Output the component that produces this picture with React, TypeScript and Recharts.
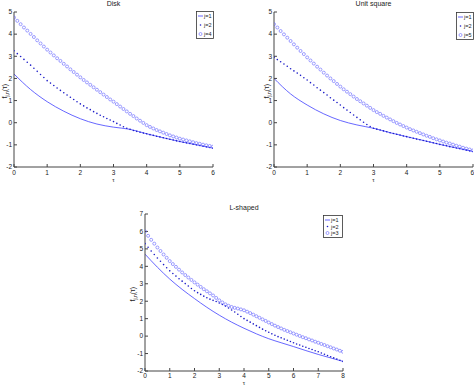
import React from 'react';
import { LineChart, Line, XAxis, YAxis } from 'recharts';

// tau samples
const tauFine6 = [
  0, 0.1, 0.2, 0.3, 0.4, 0.5, 0.6, 0.7, 0.8, 0.9, 1, 1.1, 1.2, 1.3, 1.4, 1.5, 1.6, 1.7, 1.8, 1.9, 2,
  2.1, 2.2, 2.3, 2.4, 2.5, 2.6, 2.7, 2.8, 2.9, 3, 3.1, 3.2, 3.3, 3.4, 3.5, 3.6, 3.7, 3.8, 3.9, 4,
  4.1, 4.2, 4.3, 4.4, 4.5, 4.6, 4.7, 4.8, 4.9, 5, 5.1, 5.2, 5.3, 5.4, 5.5, 5.6, 5.7, 5.8, 5.9, 6,
];
const tauHalf6 = [0, 0.5, 1, 1.5, 2, 2.5, 3, 3.5, 4, 4.5, 5, 5.5, 6];
const tauFine8 = [
  0, 0.125, 0.25, 0.375, 0.5, 0.625, 0.75, 0.875, 1, 1.125, 1.25, 1.375, 1.5, 1.625, 1.75, 1.875,
  2, 2.125, 2.25, 2.375, 2.5, 2.625, 2.75, 2.875, 3, 3.125, 3.25, 3.375, 3.5, 3.625, 3.75, 3.875,
  4, 4.125, 4.25, 4.375, 4.5, 4.625, 4.75, 4.875, 5, 5.125, 5.25, 5.375, 5.5, 5.625, 5.75, 5.875,
  6, 6.125, 6.25, 6.375, 6.5, 6.625, 6.75, 6.875, 7, 7.125, 7.25, 7.375, 7.5, 7.625, 7.75, 7.875, 8,
];
const tauHalf8 = [0, 0.5, 1, 1.5, 2, 2.5, 3, 3.5, 4, 4.5, 5, 5.5, 6, 6.5, 7, 7.5, 8];

// Disk
const diskJ1 = [2.2, 1.5, 0.95, 0.52, 0.18, -0.06, -0.2, -0.3, -0.5, -0.68, -0.85, -1.0, -1.15];
const diskJ2 = [
  3.25, 3.12, 2.99, 2.86, 2.73, 2.6, 2.46, 2.32, 2.18, 2.04, 1.9, 1.79, 1.68, 1.57, 1.46, 1.35,
  1.25, 1.15, 1.05, 0.95, 0.85, 0.76, 0.67, 0.59, 0.5, 0.42, 0.34, 0.27, 0.19, 0.12, 0.05, -0.03,
  -0.1, -0.18, -0.25, -0.3, -0.35, -0.39, -0.43, -0.47, -0.5, -0.54, -0.57, -0.61, -0.64, -0.68,
  -0.71, -0.75, -0.78, -0.82, -0.85, -0.88, -0.91, -0.94, -0.97, -1.0, -1.03, -1.06, -1.09, -1.12, -1.15,
];
const diskJ4 = [
  4.75, 4.6, 4.45, 4.3, 4.16, 4.01, 3.87, 3.72, 3.58, 3.44, 3.3, 3.17, 3.04, 2.91, 2.79, 2.66,
  2.54, 2.41, 2.29, 2.17, 2.05, 1.93, 1.82, 1.71, 1.6, 1.49, 1.38, 1.27, 1.16, 1.05, 0.95, 0.84,
  0.73, 0.62, 0.51, 0.4, 0.3, 0.19, 0.09, -0.01, -0.11, -0.19, -0.26, -0.33, -0.39, -0.45, -0.51,
  -0.57, -0.62, -0.67, -0.72, -0.76, -0.8, -0.84, -0.88, -0.92, -0.95, -0.99, -1.02, -1.05, -1.08,
];

// Unit square
const squareJ1 = [2.0, 1.3, 0.8, 0.4, 0.1, -0.1, -0.25, -0.45, -0.63, -0.8, -0.98, -1.14, -1.3];
const squareJ2 = [
  2.95, 2.85, 2.75, 2.65, 2.55, 2.44, 2.34, 2.24, 2.14, 2.03, 1.93, 1.81, 1.7, 1.58, 1.47, 1.36,
  1.25, 1.13, 1.02, 0.91, 0.8, 0.68, 0.57, 0.46, 0.35, 0.24, 0.13, 0.02, -0.08, -0.17, -0.25, -0.29,
  -0.33, -0.37, -0.41, -0.45, -0.49, -0.52, -0.56, -0.6, -0.63, -0.67, -0.7, -0.74, -0.77, -0.8,
  -0.84, -0.87, -0.91, -0.94, -0.98, -1.01, -1.04, -1.08, -1.11, -1.14, -1.17, -1.21, -1.24, -1.27, -1.3,
];
const squareJ5 = [
  4.45, 4.3, 4.14, 3.99, 3.84, 3.69, 3.54, 3.39, 3.24, 3.1, 2.95, 2.81, 2.67, 2.53, 2.4, 2.26,
  2.13, 2.0, 1.88, 1.75, 1.63, 1.51, 1.4, 1.29, 1.18, 1.07, 0.97, 0.87, 0.77, 0.67, 0.57, 0.48,
  0.4, 0.31, 0.23, 0.15, 0.07, -0.01, -0.08, -0.15, -0.22, -0.29, -0.35, -0.41, -0.47, -0.53,
  -0.59, -0.64, -0.7, -0.75, -0.8, -0.85, -0.9, -0.94, -0.99, -1.04, -1.08, -1.13, -1.17, -1.21, -1.25,
];

// L-shaped
const lshapeJ1 = [4.7, 3.95, 3.27, 2.68, 2.15, 1.65, 1.2, 0.8, 0.45, 0.13, -0.15, -0.38, -0.6, -0.83, -1.05, -1.25, -1.45];
const lshapeJ2 = [
  5.3, 5.09, 4.88, 4.68, 4.48, 4.29, 4.1, 3.92, 3.74, 3.59, 3.44, 3.29, 3.15, 3.01, 2.87, 2.73,
  2.6, 2.49, 2.39, 2.29, 2.2, 2.12, 2.05, 1.98, 1.9, 1.81, 1.72, 1.61, 1.5, 1.38, 1.25, 1.12,
  1.0, 0.9, 0.8, 0.7, 0.6, 0.5, 0.4, 0.31, 0.22, 0.13, 0.05, -0.03, -0.1, -0.17, -0.24, -0.31,
  -0.38, -0.45, -0.51, -0.58, -0.64, -0.71, -0.77, -0.84, -0.9, -0.97, -1.04, -1.11, -1.18, -1.25, -1.31, -1.38, -1.45,
];
const lshapeJ3 = [
  6.0, 5.75, 5.52, 5.3, 5.08, 4.88, 4.68, 4.49, 4.3, 4.13, 3.97, 3.81, 3.65, 3.5, 3.36, 3.22,
  3.08, 2.95, 2.82, 2.69, 2.57, 2.45, 2.33, 2.19, 2.05, 1.93, 1.82, 1.74, 1.67, 1.62, 1.58, 1.53,
  1.48, 1.4, 1.32, 1.23, 1.14, 1.05, 0.96, 0.87, 0.78, 0.69, 0.6, 0.52, 0.44, 0.36, 0.29, 0.22,
  0.15, 0.08, 0.01, -0.06, -0.12, -0.19, -0.25, -0.32, -0.38, -0.45, -0.51, -0.58, -0.64, -0.71, -0.77, -0.84, -0.9,
];

const xTicks6 = [0, 1, 2, 3, 4, 5, 6];
const xTicks8 = [0, 1, 2, 3, 4, 5, 6, 7, 8];
const yTicks5 = [-2, -1, 0, 1, 2, 3, 4, 5];
const yTicks7 = [-2, -1, 0, 1, 2, 3, 4, 5, 6, 7];

const FONT = '"Liberation Sans", Arial, sans-serif';
const AXIS = '#444';
const LINE_BLUE = '#4040ff';
const DOT_BLUE = '#1c1cc8';
const RING_BLUE = '#6060ff';

const zip = (xs: number[], ys: number[]) => xs.map((t, i) => ({ t, v: ys[i] }));

interface PanelProps {
  left: number;
  top: number;
  width: number;
  height: number;
  margin: { top: number; right: number; left: number; bottom: number };
  yAxisWidth: number;
  xAxisHeight: number;
  xTickMargin: number;
  title: string;
  titleY: number;
  xLabelY: number;
  yLabelX: number;
  xMax: number;
  yMin: number;
  yMax: number;
  xTicks: number[];
  yTicks: number[];
  lineData: { t: number; v: number }[];
  dotData: { t: number; v: number }[];
  ringData: { t: number; v: number }[];
  labels: string[];
  legendBox: { left: number; top: number; width: number; height: number };
}

const tickStyle = { fontSize: 6.5, fill: '#222', fontFamily: FONT };

const LegendBox: React.FC<{ labels: string[]; box: PanelProps['legendBox'] }> = ({ labels, box }) => (
  <svg
    width={box.width}
    height={box.height}
    style={{ position: 'absolute', left: box.left, top: box.top, overflow: 'visible' }}
  >
    <rect x={0.5} y={0.5} width={box.width - 1} height={box.height - 1} fill="#fff" stroke="#333" strokeWidth={0.8} />
    {labels.map((lab, i) => {
      const cy = 5 + i * ((box.height - 10) / 2);
      return (
        <g key={lab}>
          {i === 0 && <line x1={2} x2={7} y1={cy} y2={cy} stroke={LINE_BLUE} strokeWidth={0.8} />}
          {i === 1 && <circle cx={4.5} cy={cy} r={0.8} fill={DOT_BLUE} />}
          {i === 2 && <circle cx={4.5} cy={cy} r={1.5} fill="none" stroke={RING_BLUE} strokeWidth={0.6} />}
          <text x={8} y={cy + 2} fontSize={5.5} fontFamily={FONT} fill="#222">
            {lab}
          </text>
        </g>
      );
    })}
  </svg>
);

const Panel: React.FC<PanelProps> = (p) => {
  const plotLeft = p.margin.left + p.yAxisWidth;
  const plotRight = p.width - p.margin.right;
  const plotTop = p.margin.top;
  const plotBottom = p.height - p.margin.bottom - p.xAxisHeight;
  const cx = (plotLeft + plotRight) / 2;
  const cy = (plotTop + plotBottom) / 2;
  return (
    <div style={{ position: 'absolute', left: p.left, top: p.top, width: p.width, height: p.height }}>
      <LineChart width={p.width} height={p.height} margin={p.margin}>
        <XAxis
          type="number"
          dataKey="t"
          domain={[0, p.xMax]}
          ticks={p.xTicks}
          height={p.xAxisHeight}
          tickSize={-3}
          tickMargin={p.xTickMargin}
          tick={tickStyle}
          stroke={AXIS}
          allowDataOverflow
        />
        <XAxis
          xAxisId="top"
          orientation="top"
          type="number"
          dataKey="t"
          domain={[0, p.xMax]}
          ticks={p.xTicks}
          height={0}
          tickSize={-3}
          tick={false}
          stroke={AXIS}
          allowDataOverflow
        />
        <YAxis
          type="number"
          domain={[p.yMin, p.yMax]}
          ticks={p.yTicks}
          width={p.yAxisWidth}
          tickSize={-3}
          tickMargin={5}
          tick={tickStyle}
          stroke={AXIS}
          allowDataOverflow
        />
        <YAxis
          yAxisId="right"
          orientation="right"
          type="number"
          domain={[p.yMin, p.yMax]}
          ticks={p.yTicks}
          width={0}
          tickSize={-3}
          tick={false}
          stroke={AXIS}
          allowDataOverflow
        />
        <Line
          data={p.lineData}
          dataKey="v"
          type="monotone"
          stroke={LINE_BLUE}
          strokeWidth={0.8}
          dot={false}
          activeDot={false}
          isAnimationActive={false}
        />
        <Line
          data={p.dotData}
          dataKey="v"
          stroke="none"
          dot={{ r: 0.8, fill: DOT_BLUE, stroke: 'none' }}
          activeDot={false}
          isAnimationActive={false}
        />
        <Line
          data={p.ringData}
          dataKey="v"
          stroke="none"
          dot={{ r: 1.5, fill: 'none', stroke: RING_BLUE, strokeWidth: 0.6 }}
          activeDot={false}
          isAnimationActive={false}
        />
      </LineChart>
      <div
        style={{
          position: 'absolute',
          left: cx - 40,
          width: 80,
          top: p.titleY - 4,
          textAlign: 'center',
          fontSize: 7,
          fontFamily: FONT,
          color: '#222',
          lineHeight: '8px',
        }}
      >
        {p.title}
      </div>
      <div
        style={{
          position: 'absolute',
          left: cx - 10,
          width: 20,
          top: p.xLabelY - 3,
          textAlign: 'center',
          fontSize: 6,
          fontFamily: FONT,
          color: '#222',
          lineHeight: '6px',
        }}
      >
        τ
      </div>
      <div
        style={{
          position: 'absolute',
          left: p.yLabelX - 20,
          width: 40,
          top: cy - 4,
          textAlign: 'center',
          fontSize: 7,
          fontFamily: FONT,
          color: '#222',
          lineHeight: '8px',
          transform: 'rotate(-90deg)',
          whiteSpace: 'nowrap',
        }}
      >
        f<sub style={{ fontSize: 5 }}>j,n</sub>(τ)
      </div>
      <LegendBox labels={p.labels} box={p.legendBox} />
    </div>
  );
};

export default function App() {
  return (
    <div
      style={{
        position: 'absolute',
        left: 0,
        top: 0,
        width: 474,
        height: 386,
        background: '#fff',
        overflow: 'hidden',
      }}
    >
      <Panel
        left={0}
        top={0}
        width={237}
        height={190}
        margin={{ top: 12, right: 24, left: 0, bottom: 0 }}
        yAxisWidth={14}
        xAxisHeight={23}
        xTickMargin={6}
        title="Disk"
        titleY={4}
        xLabelY={180}
        yLabelX={6}
        xMax={6}
        yMin={-2}
        yMax={5}
        xTicks={xTicks6}
        yTicks={yTicks5}
        lineData={zip(tauHalf6, diskJ1)}
        dotData={zip(tauFine6, diskJ2)}
        ringData={zip(tauFine6, diskJ4)}
        labels={['j=1', 'j=2', 'j=4']}
        legendBox={{ left: 196, top: 11, width: 18, height: 28 }}
      />
      <Panel
        left={237}
        top={0}
        width={237}
        height={190}
        margin={{ top: 12, right: 1, left: 0, bottom: 0 }}
        yAxisWidth={37}
        xAxisHeight={23}
        xTickMargin={6}
        title="Unit square"
        titleY={4}
        xLabelY={180}
        yLabelX={31}
        xMax={6}
        yMin={-2}
        yMax={5}
        xTicks={xTicks6}
        yTicks={yTicks5}
        lineData={zip(tauHalf6, squareJ1)}
        dotData={zip(tauFine6, squareJ2)}
        ringData={zip(tauFine6, squareJ5)}
        labels={['j=1', 'j=2', 'j=5']}
        legendBox={{ left: 219, top: 12, width: 18, height: 28 }}
      />
      <Panel
        left={120}
        top={190}
        width={240}
        height={196}
        margin={{ top: 24, right: 17, left: 0, bottom: 0 }}
        yAxisWidth={25}
        xAxisHeight={15}
        xTickMargin={5}
        title="L-shaped"
        titleY={18}
        xLabelY={193}
        yLabelX={14}
        xMax={8}
        yMin={-2}
        yMax={7}
        xTicks={xTicks8}
        yTicks={yTicks7}
        lineData={zip(tauHalf8, lshapeJ1)}
        dotData={zip(tauFine8, lshapeJ2)}
        ringData={zip(tauFine8, lshapeJ3)}
        labels={['j=1', 'j=2', 'j=3']}
        legendBox={{ left: 203, top: 25, width: 20, height: 23 }}
      />
    </div>
  );
}
